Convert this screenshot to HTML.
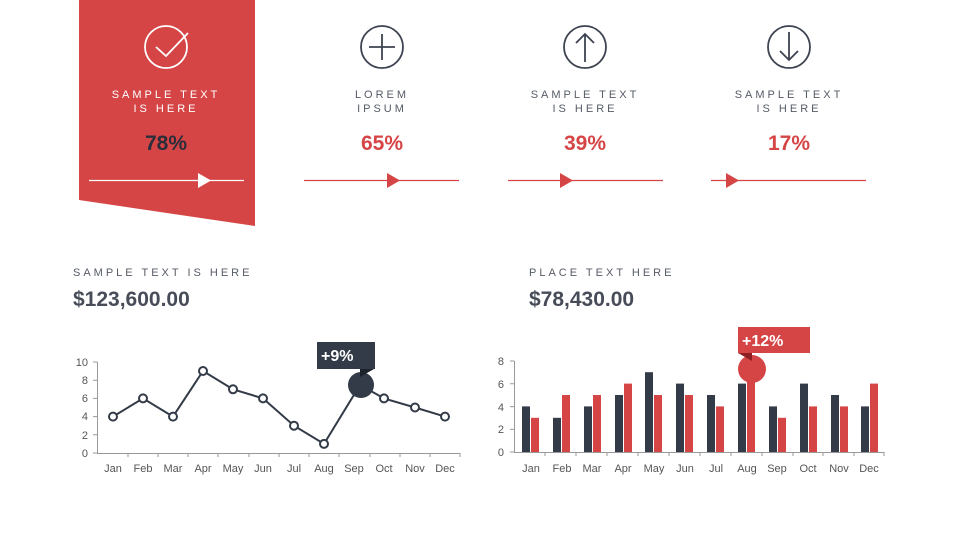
<!DOCTYPE html>
<html><head><meta charset="utf-8"><style>
body{margin:0;background:#fff}
svg text{font-family:"Liberation Sans",sans-serif}
</style></head><body>
<svg width="960" height="540" viewBox="0 0 960 540" xmlns="http://www.w3.org/2000/svg">
<polygon points="79,0 255,0 255,226 79,200" fill="#d64546"/>
<!-- icons -->
<circle cx="166" cy="47" r="21" fill="none" stroke="#fff" stroke-width="1.8"/>
<polyline points="156,47 166,56 188,33" fill="none" stroke="#fff" stroke-width="1.8"/>
<circle cx="382" cy="47" r="21" fill="none" stroke="#3d4350" stroke-width="1.8"/>
<path d="M369,47H395M382,34V60" stroke="#3d4350" stroke-width="1.8"/>
<circle cx="585" cy="47" r="21" fill="none" stroke="#3d4350" stroke-width="1.8"/>
<path d="M585,62V34M576,43L585,34L594,43" fill="none" stroke="#3d4350" stroke-width="1.8"/>
<circle cx="789" cy="47" r="21" fill="none" stroke="#3d4350" stroke-width="1.8"/>
<path d="M789,32V60M780,51L789,60L798,51" fill="none" stroke="#3d4350" stroke-width="1.8"/>
<g font-size="11" letter-spacing="3" text-anchor="middle">
<text x="166" y="98" fill="#fff">SAMPLE TEXT</text><text x="166" y="112" fill="#fff">IS HERE</text>
<text x="382" y="98" fill="#555b66">LOREM</text><text x="382" y="112" fill="#555b66">IPSUM</text>
<text x="585" y="98" fill="#555b66">SAMPLE TEXT</text><text x="585" y="112" fill="#555b66">IS HERE</text>
<text x="789" y="98" fill="#555b66">SAMPLE TEXT</text><text x="789" y="112" fill="#555b66">IS HERE</text>
</g>
<g font-size="21" font-weight="bold" text-anchor="middle">
<text x="166" y="150" fill="#2a2d3a">78%</text>
<text x="382" y="150" fill="#d64546">65%</text>
<text x="585" y="150" fill="#d64546">39%</text>
<text x="789" y="150" fill="#d64546">17%</text>
</g>
<line x1="89" y1="180.5" x2="244" y2="180.5" stroke="#fff" stroke-width="1.2"/>
<polygon points="198,173 211,180.5 198,188" fill="#fff"/>
<line x1="304" y1="180.5" x2="459" y2="180.5" stroke="#d64546" stroke-width="1.2"/>
<polygon points="387,173 400,180.5 387,188" fill="#d64546"/>
<line x1="508" y1="180.5" x2="663" y2="180.5" stroke="#d64546" stroke-width="1.2"/>
<polygon points="560,173 573,180.5 560,188" fill="#d64546"/>
<line x1="711" y1="180.5" x2="866" y2="180.5" stroke="#d64546" stroke-width="1.2"/>
<polygon points="726,173 739,180.5 726,188" fill="#d64546"/>
<!-- section titles -->
<g font-size="11" letter-spacing="3" fill="#555b66">
<text x="73" y="276">SAMPLE TEXT IS HERE</text>
<text x="529" y="276">PLACE TEXT HERE</text>
</g>
<g font-size="21" font-weight="bold" fill="#474c58">
<text x="73" y="306">$123,600.00</text>
<text x="529" y="306">$78,430.00</text>
</g>
<!-- line chart -->
<g stroke="#999" stroke-width="1" fill="none">
<path d="M97.5,362V453.5H460"/>
<path d="M93,362H97.5M93,380.2H97.5M93,398.4H97.5M93,416.6H97.5M93,434.8H97.5M93,453H97.5"/>
<path d="M128,453v4M158,453v4M188,453v4M218,453v4M249,453v4M279,453v4M309,453v4M339,453v4M370,453v4M400,453v4M430,453v4M460,453v4"/>
</g>
<g font-size="11" fill="#555" text-anchor="end">
<text x="88" y="366">10</text><text x="88" y="384">8</text><text x="88" y="402">6</text><text x="88" y="420">4</text><text x="88" y="439">2</text><text x="88" y="457">0</text>
</g>
<g font-size="11" fill="#555" text-anchor="middle">
<text x="113" y="472">Jan</text><text x="143" y="472">Feb</text><text x="173" y="472">Mar</text><text x="203" y="472">Apr</text><text x="233" y="472">May</text><text x="263" y="472">Jun</text><text x="294" y="472">Jul</text><text x="324" y="472">Aug</text><text x="354" y="472">Sep</text><text x="384" y="472">Oct</text><text x="415" y="472">Nov</text><text x="445" y="472">Dec</text>
</g>
<polyline points="113,416.6 143,398.4 173,416.6 203,371 233,389.3 263,398.4 294,425.7 324,443.9 360,385 384,398.4 415,407.5 445,416.6" fill="none" stroke="#333b48" stroke-width="2"/>
<g fill="#fff" stroke="#333b48" stroke-width="2">
<circle cx="113" cy="416.6" r="4"/><circle cx="143" cy="398.4" r="4"/><circle cx="173" cy="416.6" r="4"/><circle cx="203" cy="371" r="4"/><circle cx="233" cy="389.3" r="4"/><circle cx="263" cy="398.4" r="4"/><circle cx="294" cy="425.7" r="4"/><circle cx="324" cy="443.9" r="4"/><circle cx="384" cy="398.4" r="4"/><circle cx="415" cy="407.5" r="4"/><circle cx="445" cy="416.6" r="4"/>
</g>
<circle cx="361" cy="385" r="13" fill="#333b48"/>
<rect x="317" y="342" width="58" height="27" fill="#333b48"/>
<polygon points="360,369 374,369 360,377" fill="#1d222b"/>
<text x="321" y="361" font-size="16" font-weight="bold" fill="#fff">+9%</text>
<!-- bar chart -->
<g fill="#333b48">
<rect x="522" y="406.4" width="8" height="45.6"/><rect x="553" y="417.8" width="8" height="34.2"/><rect x="584" y="406.4" width="8" height="45.6"/><rect x="615" y="395" width="8" height="57"/><rect x="645" y="372.2" width="8" height="79.8"/><rect x="676" y="383.6" width="8" height="68.4"/><rect x="707" y="395" width="8" height="57"/><rect x="738" y="383.6" width="8" height="68.4"/><rect x="769" y="406.4" width="8" height="45.6"/><rect x="800" y="383.6" width="8" height="68.4"/><rect x="831" y="395" width="8" height="57"/><rect x="861" y="406.4" width="8" height="45.6"/>
</g>
<g fill="#d64546">
<rect x="531" y="417.8" width="8" height="34.2"/><rect x="562" y="395" width="8" height="57"/><rect x="593" y="395" width="8" height="57"/><rect x="624" y="383.6" width="8" height="68.4"/><rect x="654" y="395" width="8" height="57"/><rect x="685" y="395" width="8" height="57"/><rect x="716" y="406.4" width="8" height="45.6"/><rect x="747" y="369" width="8" height="83"/><rect x="778" y="417.8" width="8" height="34.2"/><rect x="809" y="406.4" width="8" height="45.6"/><rect x="840" y="406.4" width="8" height="45.6"/><rect x="870" y="383.6" width="8" height="68.4"/>
</g>
<circle cx="752" cy="369" r="14" fill="#d64546"/>
<rect x="738" y="327" width="72" height="26" fill="#d64546"/>
<polygon points="738,353 752,353 752,361" fill="#8e1f22"/>
<text x="742" y="346" font-size="16" font-weight="bold" fill="#fff">+12%</text>
<g stroke="#999" stroke-width="1" fill="none">
<path d="M514.5,361V452.5H884"/>
<path d="M510,361H514.5M510,383.8H514.5M510,406.6H514.5M510,429.4H514.5M510,452H514.5"/>
<path d="M545,452v4M576,452v4M607,452v4M638,452v4M669,452v4M700,452v4M731,452v4M762,452v4M793,452v4M823,452v4M854,452v4M884,452v4"/>
</g>
<g font-size="11" fill="#555" text-anchor="end">
<text x="504" y="365">8</text><text x="504" y="388">6</text><text x="504" y="411">4</text><text x="504" y="433">2</text><text x="504" y="456">0</text>
</g>
<g font-size="11" fill="#555" text-anchor="middle">
<text x="531" y="472">Jan</text><text x="562" y="472">Feb</text><text x="592" y="472">Mar</text><text x="623" y="472">Apr</text><text x="654" y="472">May</text><text x="685" y="472">Jun</text><text x="716" y="472">Jul</text><text x="747" y="472">Aug</text><text x="777" y="472">Sep</text><text x="808" y="472">Oct</text><text x="839" y="472">Nov</text><text x="869" y="472">Dec</text>
</g>
</svg>
</body></html>
